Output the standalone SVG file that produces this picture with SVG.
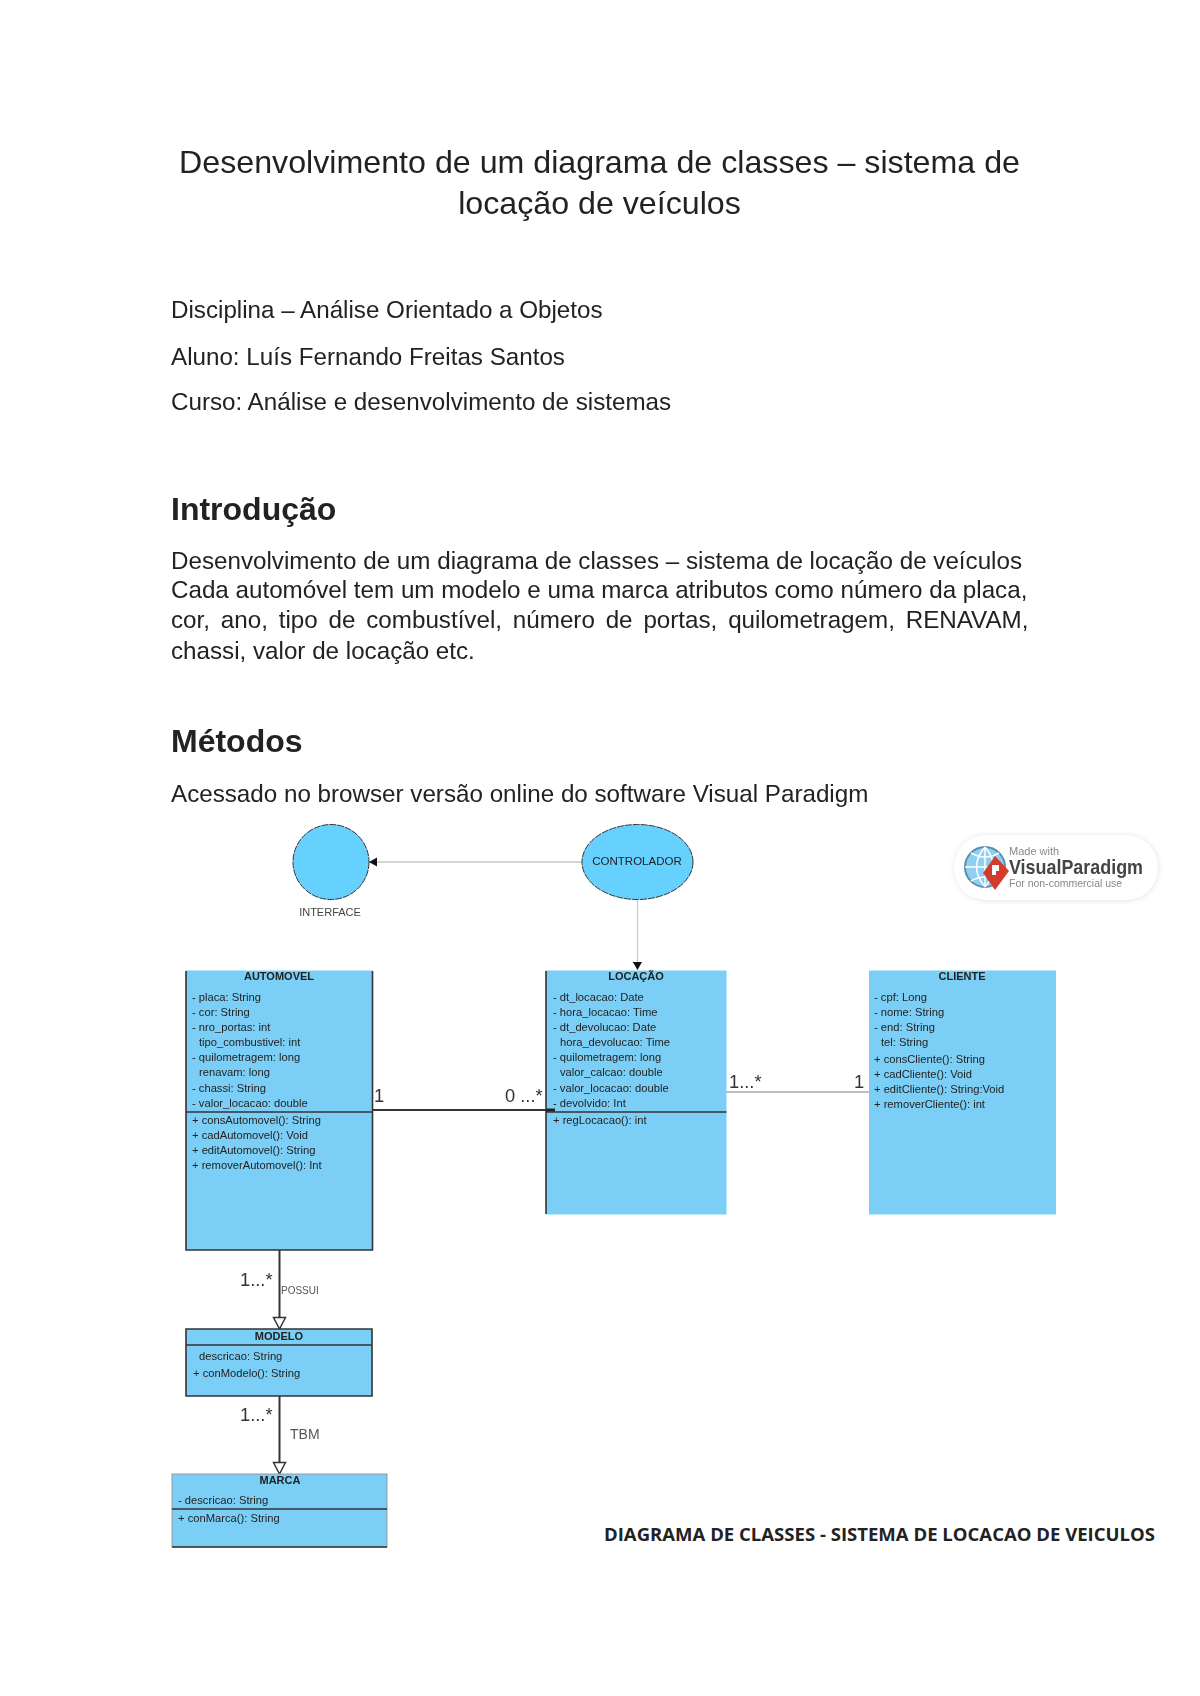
<svg xmlns="http://www.w3.org/2000/svg" width="1200" height="1696" viewBox="0 0 1200 1696">
<style>
text{font-family:"Liberation Sans",Arial,sans-serif}
.t{font-size:32.2px;fill:#222;text-anchor:middle}
.b{font-size:24.2px;fill:#222}
.h{font-size:32px;font-weight:bold;fill:#222}
.c{font-size:11.2px;fill:#222}
.n{font-size:11px;font-weight:bold;fill:#222;text-anchor:middle}
.m{font-size:18.3px;fill:#333}
.box{fill:#7BCFF6}
.e{stroke:#333;stroke-width:1.6;fill:none}
.l{stroke:#333;stroke-width:2;fill:none}
.g{stroke:#aaa;stroke-width:1.2;fill:none}
.soft{filter:url(#s)}
.cap{font-family:"Open Sans",sans-serif;font-size:17.5px;font-weight:bold;fill:#222}
</style>
<defs>
<filter id="s" x="-5%" y="-5%" width="110%" height="110%"><feGaussianBlur stdDeviation="0.5"/></filter>
<filter id="p" x="-2%" y="-2%" width="104%" height="104%"><feGaussianBlur stdDeviation="0.3"/></filter>
<filter id="sh" x="-10%" y="-20%" width="120%" height="140%"><feGaussianBlur stdDeviation="3"/></filter>
<marker id="fa" markerWidth="8" markerHeight="8" refX="7" refY="4" orient="auto"><path d="M0 0L7 4L0 8Z" fill="#111"/></marker>
<marker id="ha" markerWidth="16" markerHeight="16" refX="13" refY="7.5" orient="auto" markerUnits="userSpaceOnUse"><path d="M1.500 1.500L13 7.500L1.500 13.500Z" fill="#fff" stroke="#333" stroke-width="1.500"/></marker>
</defs>
<rect width="1200" height="1696" fill="#fff"/>
<g id="page-text" filter="url(#p)">
<text class="t" x="599.500" y="173">Desenvolvimento de um diagrama de classes – sistema de</text>
<text class="t" x="599.500" y="214">locação de veículos</text>
<text class="b" x="171" y="318">Disciplina – Análise Orientado a Objetos</text>
<text class="b" x="171" y="364.500">Aluno: Luís Fernando Freitas Santos</text>
<text class="b" x="171" y="409.500">Curso: Análise e desenvolvimento de sistemas</text>
<text class="h" x="171" y="520">Introdução</text>
<text class="b" x="171" y="569">Desenvolvimento de um diagrama de classes – sistema de locação de veículos</text>
<text class="b" x="171" y="598">Cada automóvel tem um modelo e uma marca atributos como número da placa,</text>
<text class="b" x="171" y="628" word-spacing="4.100">cor, ano, tipo de combustível, número de portas, quilometragem, RENAVAM,</text>
<text class="b" x="171" y="659">chassi, valor de locação etc.</text>
<text class="h" x="171" y="752">Métodos</text>
<text class="b" x="171" y="802">Acessado no browser versão online do software Visual Paradigm</text>
</g>
<g id="connectors">
<path class="g" d="M582 862H369" marker-end="url(#fa)"/>
<path style="stroke:#ccc;stroke-width:1.2;fill:none" d="M637.500 899V970" marker-end="url(#fa)"/>
<path class="l" d="M372 1110H555"/>
<path class="g" style="stroke-width:1.6" d="M726 1092H869"/>
<path class="l" d="M279.500 1250V1329" marker-end="url(#ha)"/>
<path class="l" d="M279.500 1396V1474" marker-end="url(#ha)"/>
</g>
<g id="connector-labels" class="soft">
<text class="m" x="374" y="1102">1</text>
<text class="m" x="505" y="1102">0 ...*</text>
<text class="m" x="729" y="1088">1...*</text>
<text class="m" x="854" y="1088">1</text>
<text class="m" x="240" y="1286">1...*</text>
<text class="m" x="240" y="1421">1...*</text>
<text x="281" y="1294" font-size="10" fill="#555">POSSUI</text>
<text x="290" y="1438.500" font-size="14" fill="#555">TBM</text>
</g>
<g id="interface">
<ellipse cx="331" cy="862" rx="38" ry="37.500" fill="#66D0FF" stroke="#333" stroke-width="1" stroke-dasharray="7 1"/>
<text class="soft" x="330" y="916" font-size="11" fill="#444" text-anchor="middle">INTERFACE</text>
</g>
<g id="controlador">
<ellipse cx="637.500" cy="862" rx="55.500" ry="37.500" fill="#66D0FF" stroke="#333" stroke-width="1" stroke-dasharray="7 1"/>
<text class="soft" x="637" y="865" font-size="11.500" fill="#222" text-anchor="middle">CONTROLADOR</text>
</g>
<g id="automovel">
<rect class="box" x="186" y="970.500" width="186.500" height="279.500"/>
<path class="e" d="M186 971V1250H372.500V971"/>
<path class="e" d="M186 1112H372.500"/>
<g class="soft">
<text class="n" x="279" y="980">AUTOMOVEL</text>
<text class="c" x="192" y="1001">- placa: String</text>
<text class="c" x="192" y="1016">- cor: String</text>
<text class="c" x="192" y="1031">- nro_portas: int</text>
<text class="c" x="199" y="1046">tipo_combustivel: int</text>
<text class="c" x="192" y="1061">- quilometragem: long</text>
<text class="c" x="199" y="1076">renavam: long</text>
<text class="c" x="192" y="1092">- chassi: String</text>
<text class="c" x="192" y="1106.500">- valor_locacao: double</text>
<text class="c" x="192" y="1124">+ consAutomovel(): String</text>
<text class="c" x="192" y="1139">+ cadAutomovel(): Void</text>
<text class="c" x="192" y="1154">+ editAutomovel(): String</text>
<text class="c" x="192" y="1169">+ removerAutomovel(): Int</text>
</g>
</g>
<g id="locacao">
<rect class="box" x="546" y="970.500" width="180.500" height="244"/>
<path class="e" d="M546 971V1214"/>
<path class="e" d="M546 1112H726.500"/>
<path stroke="#222" stroke-width="3" d="M546 1110H555"/>
<g class="soft">
<text class="n" x="636" y="980">LOCAÇÃO</text>
<text class="c" x="553" y="1001">- dt_locacao: Date</text>
<text class="c" x="553" y="1016">- hora_locacao: Time</text>
<text class="c" x="553" y="1031">- dt_devolucao: Date</text>
<text class="c" x="560" y="1046">hora_devolucao: Time</text>
<text class="c" x="553" y="1061">- quilometragem: long</text>
<text class="c" x="560" y="1076">valor_calcao: double</text>
<text class="c" x="553" y="1092">- valor_locacao: double</text>
<text class="c" x="553" y="1106.500">- devolvido: Int</text>
<text class="c" x="553" y="1124">+ regLocacao(): int</text>
</g>
</g>
<g id="cliente">
<rect class="box" x="869" y="970.500" width="187" height="244"/>
<g class="soft">
<text class="n" x="962" y="980">CLIENTE</text>
<text class="c" x="874" y="1001">- cpf: Long</text>
<text class="c" x="874" y="1016">- nome: String</text>
<text class="c" x="874" y="1031">- end: String</text>
<text class="c" x="881" y="1046">tel: String</text>
<text class="c" x="874" y="1063">+ consCliente(): String</text>
<text class="c" x="874" y="1078">+ cadCliente(): Void</text>
<text class="c" x="874" y="1093">+ editCliente(): String:Void</text>
<text class="c" x="874" y="1108">+ removerCliente(): int</text>
</g>
</g>
<g id="modelo">
<rect class="box" x="186" y="1329" width="186" height="67"/>
<path class="e" d="M186 1329H372V1396H186ZM186 1345H372"/>
<g class="soft">
<text class="n" x="279" y="1340">MODELO</text>
<text class="c" x="199" y="1360">descricao: String</text>
<text class="c" x="193" y="1377">+ conModelo(): String</text>
</g>
</g>
<g id="marca">
<rect class="box" x="172" y="1474" width="215" height="73" stroke="#999"/>
<path class="e" d="M172 1509H387M172 1547H387"/>
<g class="soft">
<text class="n" x="280" y="1484">MARCA</text>
<text class="c" x="178" y="1504">- descricao: String</text>
<text class="c" x="178" y="1522">+ conMarca(): String</text>
</g>
</g>
<g id="logo">
<rect x="955" y="836" width="203" height="64" rx="32" fill="#ddd" filter="url(#sh)"/>
<rect x="954" y="835" width="204" height="65" rx="32" fill="#fff"/>
<g filter="url(#p)">
<circle cx="985" cy="867" r="20" fill="#8FD0F2" stroke="#5A8FA8" stroke-width="2"/>
<path d="M985 847V887M965 867H1005M971 853Q985 861 999 853M971 881Q985 873 999 881M985 847Q968 867 985 887M985 847Q1002 867 985 887" stroke="#fff" stroke-width="1.500" fill="none"/>
<path d="M995 856L1009 871L995 890L983 873Z" fill="#D33A2C"/>
<path d="M992 865H999V871H996V875H992Z" fill="#fff"/>
<text x="1009" y="855" font-size="11" fill="#888">Made with</text>
<text x="1009" y="874" font-size="20.500" font-weight="bold" fill="#444" textLength="134" lengthAdjust="spacingAndGlyphs">VisualParadigm</text>
<text x="1009" y="887" font-size="10.500" fill="#888">For non-commercial use</text>
</g>
</g>
<text id="caption" class="cap" x="604" y="1541" textLength="551" lengthAdjust="spacingAndGlyphs">DIAGRAMA DE CLASSES - SISTEMA DE LOCACAO DE VEICULOS</text>
</svg>
